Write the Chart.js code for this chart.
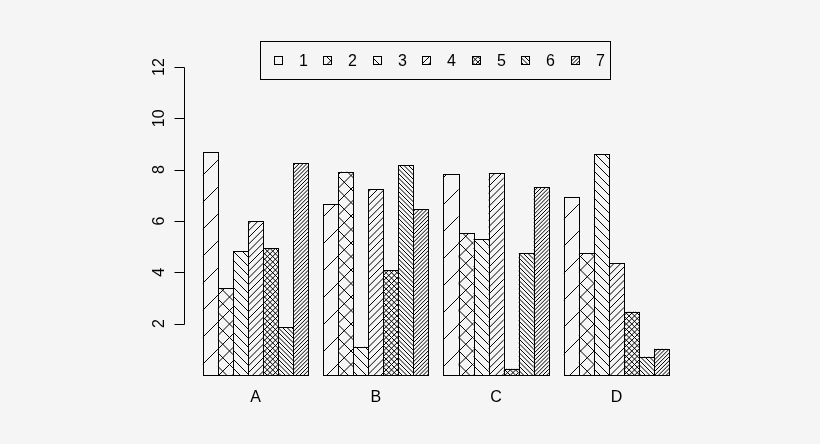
<!DOCTYPE html>
<html>
<head>
<meta charset="utf-8">
<script src="https://cdn.jsdelivr.net/npm/chart.js@4.4.0/dist/chart.umd.min.js"></script>
<style>
html,body{margin:0;padding:0;background:#f5f5f5;}
#c{display:block;}
</style>
</head>
<body>
<canvas id="c" width="820" height="444"></canvas>
<script>
// ---- data ----
const categories = ['A', 'B', 'C', 'D'];
const seriesLabels = ['1', '2', '3', '4', '5', '6', '7'];
const series1 = [8.67, 6.65, 7.82, 6.92];
const series2 = [3.39, 7.92, 5.53, 4.75];
const series3 = [4.83, 1.10, 5.30, 8.60];
const series4 = [5.99, 7.24, 7.86, 4.36];
const series5 = [4.94, 4.09, 0.24, 2.46];
const series6 = [1.87, 8.17, 4.75, 0.71];
const series7 = [8.25, 6.46, 7.31, 1.02];
const yTicks = [2, 4, 6, 8, 10, 12];

const seriesValues = [series1, series2, series3, series4, series5, series6, series7];

// ---- styles ----
const hatchDir = ['/', 'x', '\\', '/', 'x', '\\', '/'];
const hatchCount = [1, 2, 3, 4, 5, 6, 7]; // lines per tile
const FONT = '"Liberation Sans", Arial, sans-serif';

function makePattern(dir, n) {
  const T = 27;
  const cv = document.createElement('canvas');
  cv.width = T; cv.height = T;
  const g = cv.getContext('2d');
  g.strokeStyle = '#000';
  g.lineWidth = 1;
  const step = T / n;
  g.beginPath();
  for (let k = -n; k <= 2 * n; k++) {
    const c = k * step;
    if (dir === '/' || dir === 'x') {
      g.moveTo(c + T, -T);
      g.lineTo(c - 2 * T, 2 * T);
    }
    if (dir === '\\' || dir === 'x') {
      g.moveTo(-T - c, -T);
      g.lineTo(2 * T - c, 2 * T);
    }
  }
  g.stroke();
  return g.createPattern(cv, 'repeat');
}

const ctx = document.getElementById('c').getContext('2d');
const patterns = hatchDir.map((d, i) => makePattern(d, hatchCount[i]));

const outlinePlugin = {
  id: 'outline',
  afterDatasetsDraw(chart) {
    const c = chart.ctx;
    c.save();
    c.strokeStyle = '#000';
    c.lineWidth = 1;
    chart.data.datasets.forEach((ds, i) => {
      chart.getDatasetMeta(i).data.forEach(el => {
        const p = el.getProps(['x', 'y', 'base', 'width'], true);
        const l = Math.round(p.x - p.width / 2) + 0.5;
        const r = Math.round(p.x + p.width / 2) + 0.5;
        const t = Math.round(p.y) + 0.5;
        const b = Math.round(p.base) + 0.5;
        c.strokeRect(l, t, r - l, b - t);
      });
    });
    c.restore();
  }
};

const yAxisPlugin = {
  id: 'yaxisR',
  afterDraw(chart) {
    const c = chart.ctx;
    const ys = chart.scales.y;
    const ax = Math.round(chart.chartArea.left - 11.5) + 0.5;
    const y0 = Math.round(ys.getPixelForValue(yTicks[0])) + 0.5;
    const y1 = Math.round(ys.getPixelForValue(yTicks[yTicks.length - 1])) + 0.5;
    c.save();
    c.strokeStyle = '#000';
    c.lineWidth = 1;
    c.beginPath();
    c.moveTo(ax, y0);
    c.lineTo(ax, y1);
    yTicks.forEach(v => {
      const py = Math.round(ys.getPixelForValue(v)) + 0.5;
      c.moveTo(ax, py);
      c.lineTo(ax - 10, py);
    });
    c.stroke();
    c.fillStyle = '#000';
    c.font = '16px ' + FONT;
    c.textAlign = 'center';
    c.textBaseline = 'alphabetic';
    yTicks.forEach(v => {
      const py = ys.getPixelForValue(v);
      c.save();
      c.translate(ax - 21, py);
      c.rotate(-Math.PI / 2);
      c.fillText(String(v), 0, 0);
      c.restore();
    });
    c.restore();
  }
};

const legendPlugin = {
  id: 'legendR',
  afterDraw(chart) {
    const c = chart.ctx;
    c.save();
    c.strokeStyle = '#000';
    c.lineWidth = 1;
    c.strokeRect(260.5, 41.5, 350, 38);
    c.font = '16px ' + FONT;
    c.fillStyle = '#000';
    c.textAlign = 'left';
    c.textBaseline = 'alphabetic';
    chart.data.datasets.forEach((ds, i) => {
      const sx = Math.round(274 + i * 49.45);
      c.fillStyle = ds.backgroundColor;
      c.fillRect(sx, 56, 9, 9);
      c.strokeRect(sx + 0.5, 56.5, 8, 8);
      c.fillStyle = '#000';
      c.fillText(ds.label, sx + 25, 66);
    });
    c.restore();
  }
};

new Chart(ctx, {
  type: 'bar',
  data: {
    labels: categories,
    datasets: seriesValues.map((vals, i) => ({
      label: seriesLabels[i],
      data: vals,
      backgroundColor: patterns[i],
      borderWidth: 0
    }))
  },
  options: {
    responsive: false,
    animation: false,
    devicePixelRatio: 1,
    layout: { padding: { left: 195.3, right: 143.4, top: 67, bottom: 23.8 } },
    datasets: { bar: { categoryPercentage: 0.875, barPercentage: 1 } },
    plugins: { legend: { display: false }, tooltip: { enabled: false } },
    scales: {
      x: {
        grid: { display: false, drawTicks: false },
        border: { display: false },
        ticks: { color: '#000', font: { family: FONT, size: 16 }, padding: 13 }
      },
      y: { display: false, min: 0, max: 12 }
    }
  },
  plugins: [outlinePlugin, yAxisPlugin, legendPlugin]
});
</script>
</body>
</html>
